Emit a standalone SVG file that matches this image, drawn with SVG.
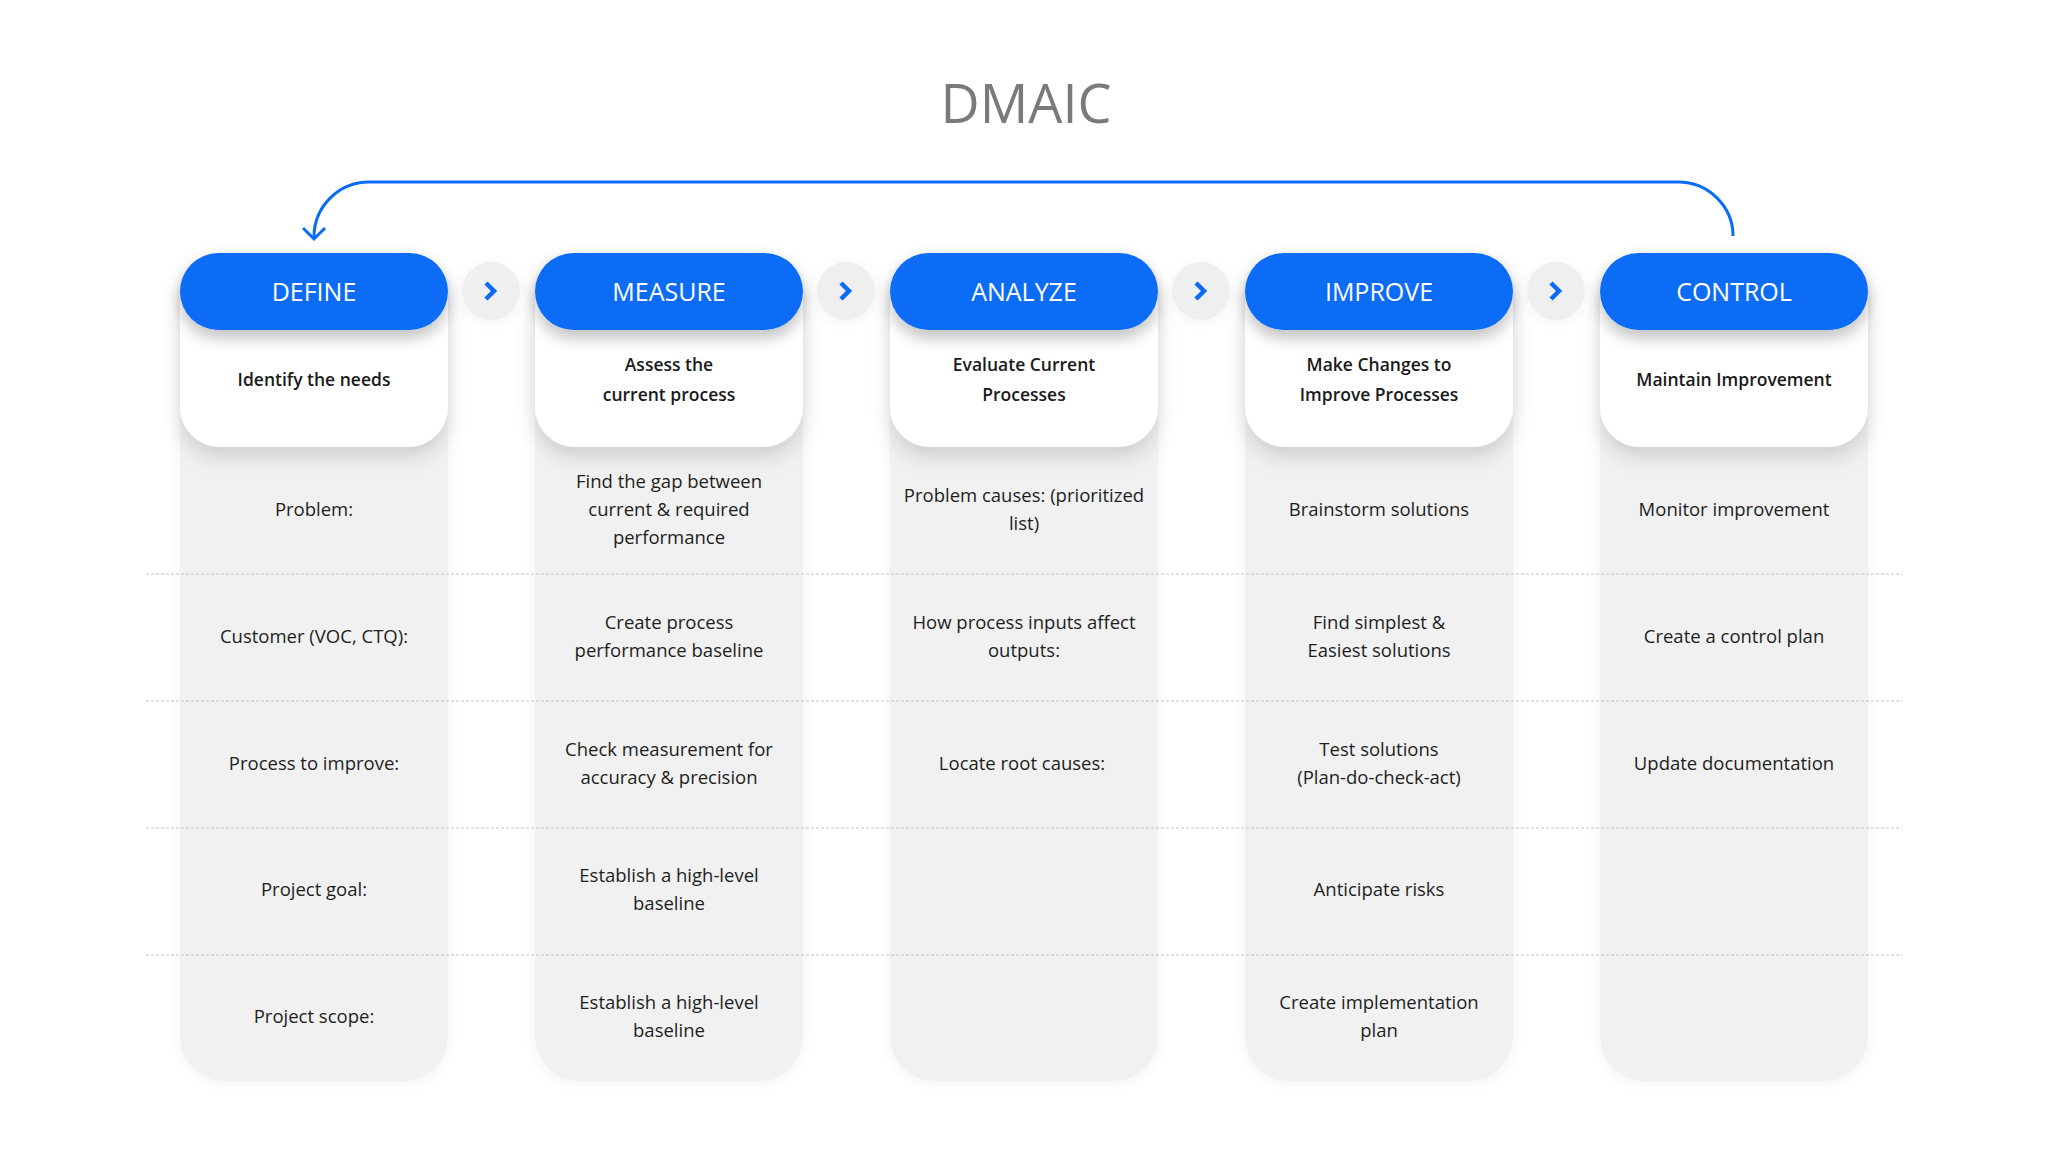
<svg xmlns="http://www.w3.org/2000/svg" width="2048" height="1152" viewBox="0 0 2048 1152">
<style>
  text { font-family: "Open Sans", "Noto Sans", "Liberation Sans", sans-serif; text-anchor: middle; }
  .title { font-size: 54px; fill: #7a7a7a; }
  .col { fill: #f1f1f1; filter: url(#soft); }
  .card { fill: #ffffff; filter: url(#cardsh); }
  .pill { fill: #0a6cf5; filter: url(#pillsh); }
  .pt { font-size: 25px; fill: #ffffff; }
  .ct { font-size: 17.5px; font-weight: 600; fill: #1a1a1a; }
  .rt { font-size: 18.5px; fill: #1e1e1e; }
  .div { stroke: #c4c4c4; stroke-width: 1; stroke-dasharray: 3 2; fill: none; }
  .loop { stroke: #0a6cf5; stroke-width: 3; fill: none; }
  .bub { fill: #efefef; filter: url(#soft); }
  .chev { stroke: #0a6cf5; stroke-width: 4.5; fill: none; stroke-linejoin: miter; }
</style>
<defs>
  <filter id="pillsh" x="-20%" y="-30%" width="140%" height="180%">
    <feDropShadow dx="0" dy="9" stdDeviation="7" flood-color="#000" flood-opacity="0.22"/>
  </filter>
  <filter id="cardsh" x="-20%" y="-20%" width="140%" height="150%">
    <feDropShadow dx="0" dy="10" stdDeviation="10" flood-color="#000" flood-opacity="0.14"/>
  </filter>
  <filter id="soft" x="-20%" y="-20%" width="140%" height="140%">
    <feDropShadow dx="0" dy="2" stdDeviation="6" flood-color="#000" flood-opacity="0.05"/>
  </filter>
</defs>
<rect width="2048" height="1152" fill="#ffffff"/>
<text class="title" x="1026" y="123">DMAIC</text>

<g id="define">
  <rect class="col" x="180" y="253" width="268" height="828" rx="44"/>
  <rect class="card" x="180" y="253" width="268" height="194" rx="40"/>
  <rect class="pill" x="180" y="253" width="268" height="77" rx="38.5"/>
  <text class="pt" x="314" y="301">DEFINE</text>
  <text class="ct" x="314" y="386">Identify the needs</text>
  <text class="rt" x="314" y="516">Problem:</text>
  <text class="rt" x="314" y="643">Customer (VOC, CTQ):</text>
  <text class="rt" x="314" y="770">Process to improve:</text>
  <text class="rt" x="314" y="896">Project goal:</text>
  <text class="rt" x="314" y="1023">Project scope:</text>
</g>

<g id="measure">
  <rect class="col" x="535" y="253" width="268" height="828" rx="44"/>
  <rect class="card" x="535" y="253" width="268" height="194" rx="40"/>
  <rect class="pill" x="535" y="253" width="268" height="77" rx="38.5"/>
  <text class="pt" x="669" y="301">MEASURE</text>
  <text class="ct" x="669" y="371">Assess the</text>
  <text class="ct" x="669" y="401">current process</text>
  <text class="rt" x="669" y="488">Find the gap between</text>
  <text class="rt" x="669" y="516">current &amp; required</text>
  <text class="rt" x="669" y="544">performance</text>
  <text class="rt" x="669" y="629">Create process</text>
  <text class="rt" x="669" y="657">performance baseline</text>
  <text class="rt" x="669" y="756">Check measurement for</text>
  <text class="rt" x="669" y="784">accuracy &amp; precision</text>
  <text class="rt" x="669" y="882">Establish a high-level</text>
  <text class="rt" x="669" y="910">baseline</text>
  <text class="rt" x="669" y="1009">Establish a high-level</text>
  <text class="rt" x="669" y="1037">baseline</text>
</g>

<g id="analyze">
  <rect class="col" x="890" y="253" width="268" height="828" rx="44"/>
  <rect class="card" x="890" y="253" width="268" height="194" rx="40"/>
  <rect class="pill" x="890" y="253" width="268" height="77" rx="38.5"/>
  <text class="pt" x="1024" y="301">ANALYZE</text>
  <text class="ct" x="1024" y="371">Evaluate Current</text>
  <text class="ct" x="1024" y="401">Processes</text>
  <text class="rt" x="1024" y="502">Problem causes: (prioritized</text>
  <text class="rt" x="1024" y="530">list)</text>
  <text class="rt" x="1024" y="629">How process inputs affect</text>
  <text class="rt" x="1024" y="657">outputs:</text>
  <text class="rt" x="1022" y="770">Locate root causes:</text>
</g>

<g id="improve">
  <rect class="col" x="1245" y="253" width="268" height="828" rx="44"/>
  <rect class="card" x="1245" y="253" width="268" height="194" rx="40"/>
  <rect class="pill" x="1245" y="253" width="268" height="77" rx="38.5"/>
  <text class="pt" x="1379" y="301">IMPROVE</text>
  <text class="ct" x="1379" y="371">Make Changes to</text>
  <text class="ct" x="1379" y="401">Improve Processes</text>
  <text class="rt" x="1379" y="516">Brainstorm solutions</text>
  <text class="rt" x="1379" y="629">Find simplest &amp;</text>
  <text class="rt" x="1379" y="657">Easiest solutions</text>
  <text class="rt" x="1379" y="756">Test solutions</text>
  <text class="rt" x="1379" y="784">(Plan-do-check-act)</text>
  <text class="rt" x="1379" y="896">Anticipate risks</text>
  <text class="rt" x="1379" y="1009">Create implementation</text>
  <text class="rt" x="1379" y="1037">plan</text>
</g>

<g id="control">
  <rect class="col" x="1600" y="253" width="268" height="828" rx="44"/>
  <rect class="card" x="1600" y="253" width="268" height="194" rx="40"/>
  <rect class="pill" x="1600" y="253" width="268" height="77" rx="38.5"/>
  <text class="pt" x="1734" y="301">CONTROL</text>
  <text class="ct" x="1734" y="386">Maintain Improvement</text>
  <text class="rt" x="1734" y="516">Monitor improvement</text>
  <text class="rt" x="1734" y="643">Create a control plan</text>
  <text class="rt" x="1734" y="770">Update documentation</text>
</g>

<g id="dividers">
  <line class="div" x1="146" y1="574" x2="1902" y2="574"/>
  <line class="div" x1="146" y1="701" x2="1902" y2="701"/>
  <line class="div" x1="146" y1="828" x2="1902" y2="828"/>
  <line class="div" x1="146" y1="955" x2="1902" y2="955"/>
</g>

<g id="connectors">
  <path class="loop" d="M 1733 236 A 55 54 0 0 0 1678 182 L 369 182 A 55 55 0 0 0 314 237"/>
  <path class="loop" d="M 303 228 L 314 239 L 325 228"/>
  <circle class="bub" cx="491" cy="291" r="29"/>
  <path class="chev" d="M 486 283 L 494 291 L 486 299"/>
  <circle class="bub" cx="846" cy="291" r="29"/>
  <path class="chev" d="M 841 283 L 849 291 L 841 299"/>
  <circle class="bub" cx="1201" cy="291" r="29"/>
  <path class="chev" d="M 1196 283 L 1204 291 L 1196 299"/>
  <circle class="bub" cx="1556" cy="291" r="29"/>
  <path class="chev" d="M 1551 283 L 1559 291 L 1551 299"/>
</g>
</svg>
